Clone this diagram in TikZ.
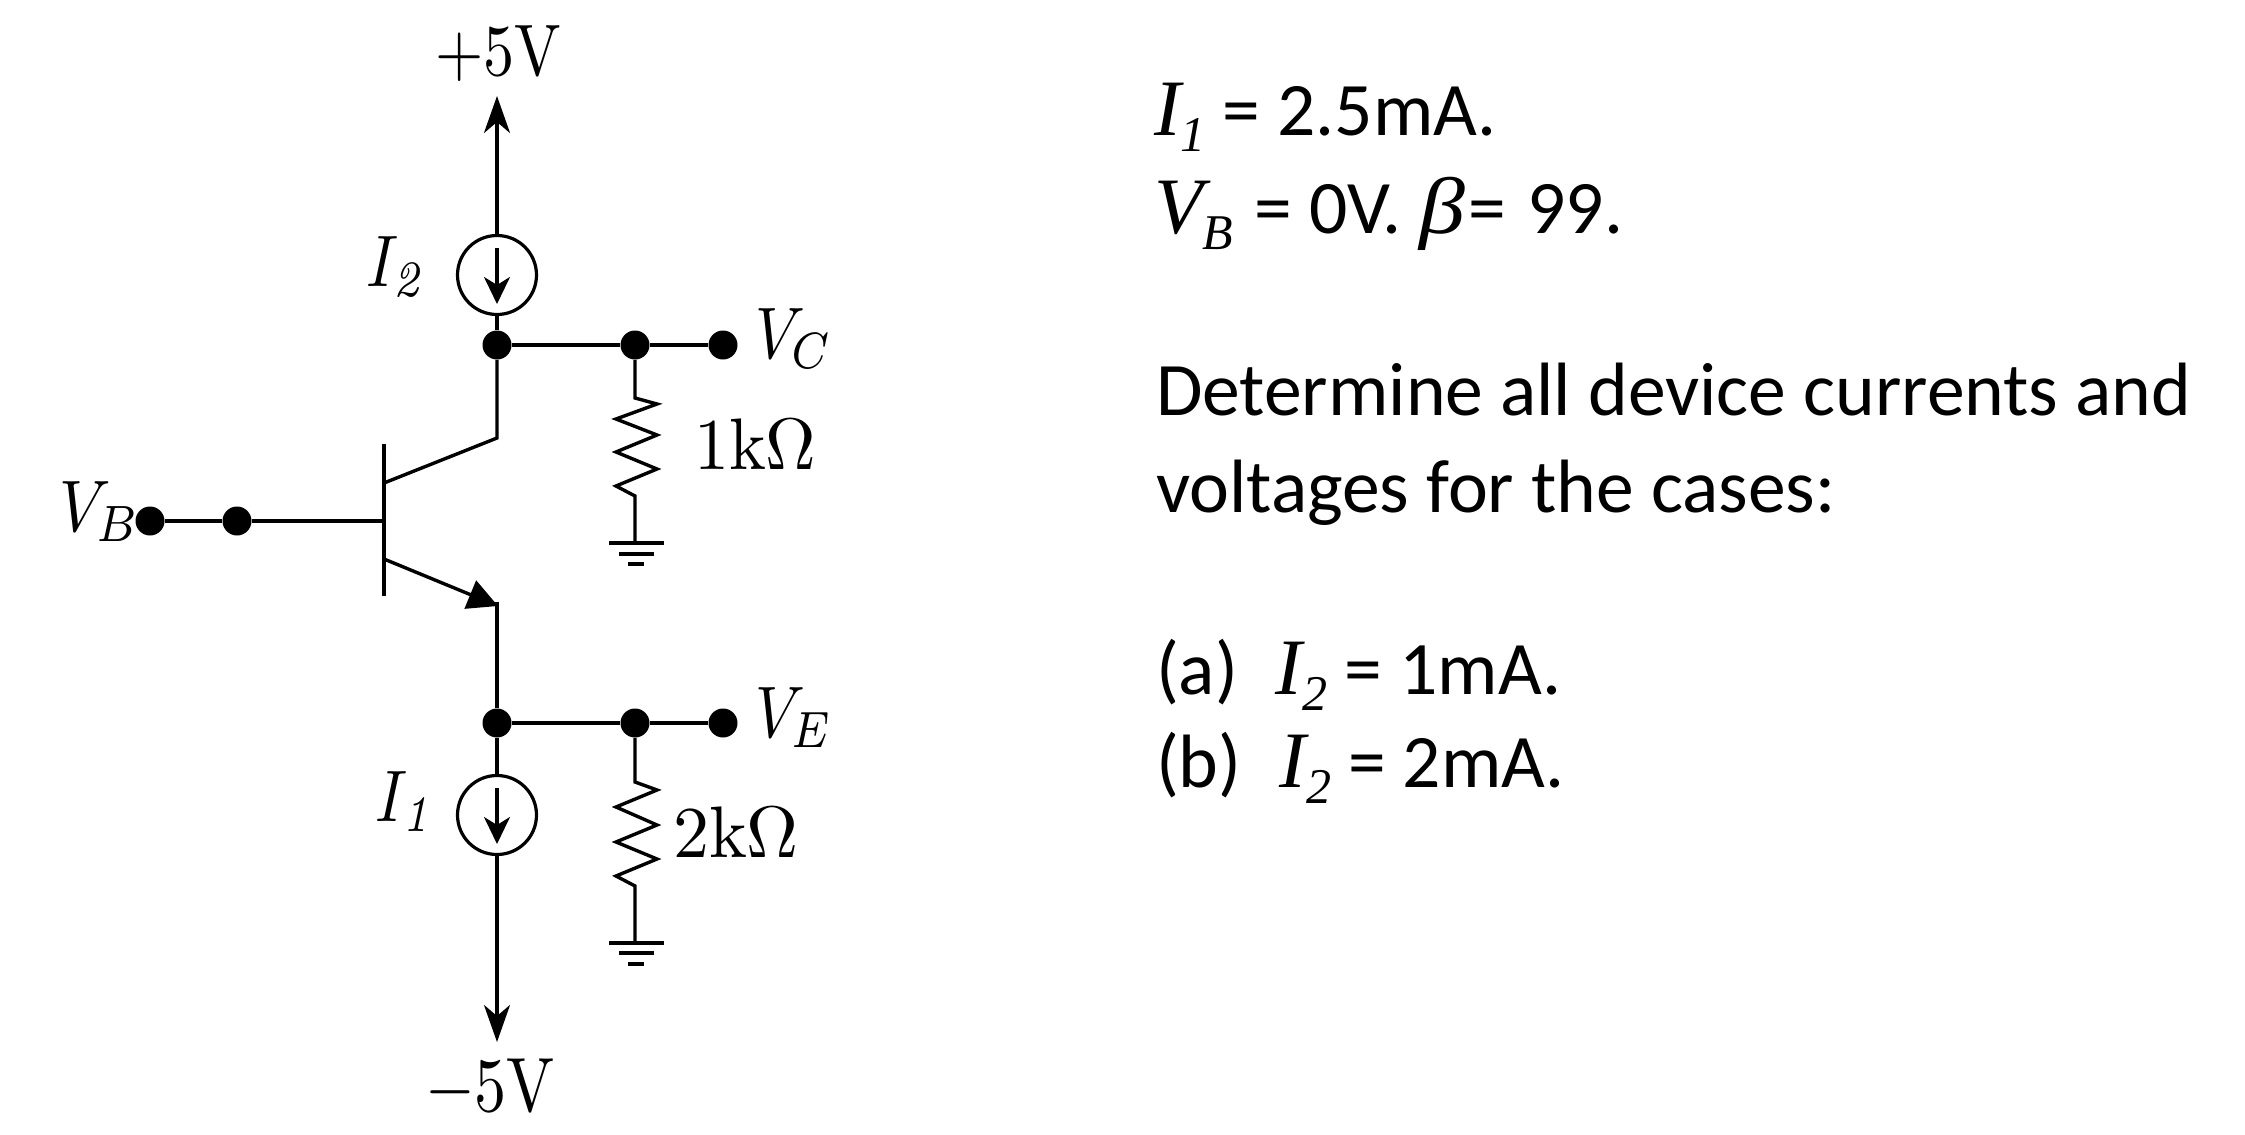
\documentclass[tikz,border=0pt]{standalone}
\usepackage[no-math]{fontspec}
\usepackage{graphicx}
\usetikzlibrary{arrows.meta}
\newfontfamily\calib{Carlito}
\newfontfamily\slideit{Liberation Serif}
\newcommand{\circlab}[3]{\scalebox{#1}[#2]{$#3$}}
\newcommand{\slidefont}{\fontsize{37.8pt}{45pt}\selectfont\calib}
\newcommand{\ital}[2]{{\slideit\itshape\fontsize{40pt}{45pt}\selectfont #1\raisebox{-0.2em}{\fontsize{25pt}{27pt}\selectfont #2}}}
\tikzset{
  wire/.style={line width=1.7pt},
  hwire/.style={line width=2.1pt},
  thin wire/.style={line width=1.7pt},
  dotnode/.style={circle,fill=black,draw=none,minimum width=14.5pt,minimum height=13.5pt,inner sep=0pt},
  source/.style={circle,draw=black,line width=1.6pt,minimum size=39.5pt,inner sep=0pt},
  supply/.style={-{Stealth[length=18.5pt,width=13pt,inset=5.5pt]},line width=1.6pt},
  inner arrow/.style={-{Stealth[length=13.5pt,width=13pt,inset=4pt]},line width=1.6pt},
  emit arrow/.style={-{Triangle[length=15pt,width=15pt]},line width=1.7pt},
  lab/.style={anchor=base west,inner sep=0pt,outer sep=0pt},
  slide/.style={anchor=base west,inner sep=0pt,outer sep=0pt,font=\slidefont}
}
\begin{document}
\begin{tikzpicture}[x=0.5pt,y=-0.5pt]
\useasboundingbox (3,2) rectangle (2248,1137);
% supply labels
\node[lab] (vcc) at (438,77) {\circlab{3.1}{3.65}{+5\mathrm{V}}};
\node[lab] (vee) at (428,1113) {\circlab{3.2}{3.85}{-5\mathrm{V}}};
% junctions
\node[dotnode] (jc) at (500,347) {};
\node[dotnode] (jr1) at (638,347) {};
\node[dotnode] (tc) at (726,347) {};
\node[dotnode] (je) at (500,725) {};
\node[dotnode] (jr2) at (638,725) {};
\node[dotnode] (te) at (726,725) {};
\node[dotnode] (tb) at (153,523) {};
\node[dotnode] (jb) at (240,523) {};
% sources
\node[source] (s2) at (500,277) {};
\node[source] (s1) at (500,817) {};
% coordinates
\coordinate (top) at (500,98);
\coordinate (bot) at (500,1044);
\coordinate (bbase) at (387,523);
\coordinate (bt) at (387,446);
\coordinate (bb) at (387,598);
\coordinate (ck) at (500,440);
\coordinate (cb) at (387,485);
\coordinate (eb) at (387,561);
\coordinate (et) at (501,608);
\coordinate (ek) at (500,604);
\coordinate (g1) at (638,545);
\coordinate (g2) at (638,945);
\coordinate (a2s) at (500,250);
\coordinate (a2e) at (500,306);
\coordinate (a1s) at (500,790);
\coordinate (a1e) at (500,846);
% wires
\draw[supply] (s2.north) -- (top);
\draw[supply] (s1.south) -- (bot);
\draw[thin wire] (s2.south) -- (jc);
\draw[thin wire] (je) -- (s1.north);
\draw[hwire] (jc) -- (jr1) -- (tc);
\draw[hwire] (je) -- (jr2) -- (te);
\draw[hwire] (tb) -- (jb) -- (bbase);
\draw[wire] (jc) -- (ck) -- (cb);
\draw[thin wire] (bt) -- (bb);
\draw[emit arrow] (eb) -- (et);
\draw[wire] (ek) -- (je);
% inner arrows
\draw[inner arrow] (a2s) -- (a2e);
\draw[inner arrow] (a1s) -- (a1e);
% resistors
\draw[thin wire,line join=miter] (jr1) -- (638,400) -- (660,406) -- (619,421) -- (660,437) -- (619,454) -- (660,471) -- (619,488) -- (638,498) -- (g1);
\draw[thin wire,line join=miter] (jr2) -- (638,784) -- (660,792) -- (619,809) -- (660,827) -- (619,844) -- (660,861) -- (619,878) -- (638,888) -- (g2);
% grounds
\draw[thin wire] (612,545) -- (g1) -- (667,545);
\draw[thin wire] (622,556) -- (657,556);
\draw[thin wire] (631,566) -- (647,566);
\draw[thin wire] (612,945) -- (g2) -- (667,945);
\draw[thin wire] (622,955) -- (657,955);
\draw[thin wire] (631,966) -- (647,966);
% circuit labels
\node[lab] (li2) at (369,288) {\circlab{3.1}{3.65}{I_{\mathit{2}}}};
\node[lab] (li1) at (378,823) {\circlab{3.1}{3.65}{I_{\mathit{1}}}};
\node[lab] (lvc) at (758,360) {\circlab{3.1}{3.65}{V_C}};
\node[lab] (lve) at (758,739) {\circlab{3.1}{3.65}{V_E}};
\node[lab] (lvb) at (62,533) {\circlab{3.2}{3.65}{V_B}};
\node[lab] (lr1) at (697,471) {\circlab{3.5}{3.65}{1\mathrm{k}\Omega}};
\node[lab] (lr2) at (676,859) {\circlab{3.6}{3.65}{2\mathrm{k}\Omega}};
% slide text
\node[slide] (t1) at (1157,137) {\ital{I}{1} = 2.5mA.};
\node[slide] (t2) at (1157,235) {\ital{V}{B}\hspace{2pt} = 0V. {\slideit\itshape\fontsize{40pt}{45pt}\selectfont\scalebox{1.15}[1]{β}}\hspace{2pt}= \hspace{2pt}99.};
\node[slide] (t3) at (1159,417) {Determine all device currents and};
\node[slide] (t4) at (1159,514) {voltages for the cases:};
\node[slide] (t5) at (1159,696) {(a)\hspace{0.5em}\ital{I}{2} = 1mA.};
\node[slide] (t6) at (1159,789) {(b)\hspace{0.5em}\ital{I}{2} = 2mA.};
\end{tikzpicture}
\end{document}
